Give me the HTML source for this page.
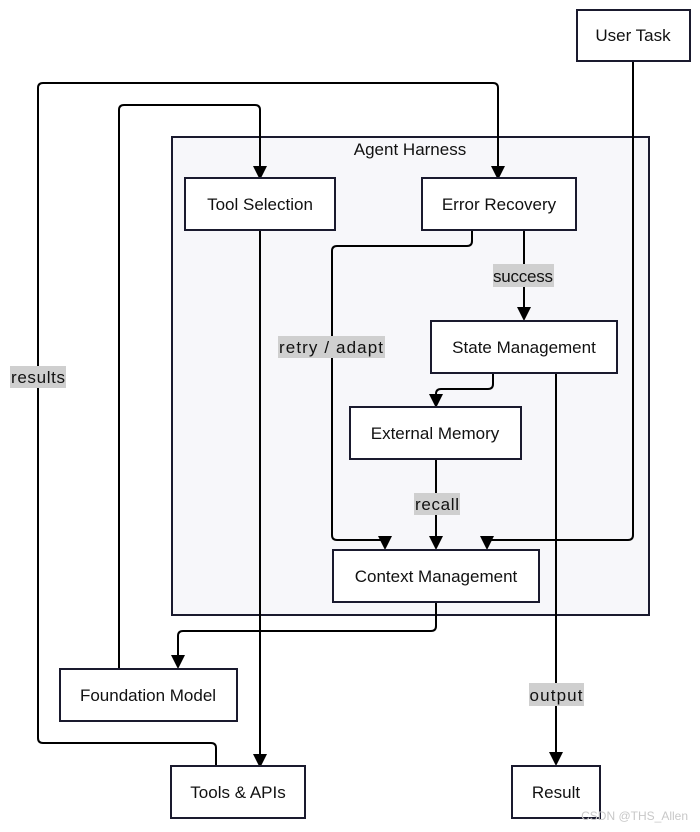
<!DOCTYPE html>
<html><head><meta charset="utf-8"><style>
html,body{margin:0;padding:0;background:#fff;}
svg text{font-family:"Liberation Sans",sans-serif;font-size:17px;fill:#111;}
</style></head><body>
<svg width="700" height="827" viewBox="0 0 700 827" xmlns="http://www.w3.org/2000/svg">
<rect x="172" y="137" width="477" height="478" fill="#f7f7fa" stroke="#1a1a2e" stroke-width="2"/>
<text x="410" y="155" text-anchor="middle">Agent Harness</text>
<g fill="none" stroke="#000" stroke-width="2">
<path d="M216 766 V748 Q216 743 211 743 H43 Q38 743 38 738 V88 Q38 83 43 83 H493 Q498 83 498 88 V168"/>
<path d="M119 669 V110 Q119 105 124 105 H255 Q260 105 260 110 V168"/>
<path d="M260 230 V756"/>
<path d="M472 230 V241 Q472 246 467 246 H337 Q332 246 332 251 V535 Q332 540 337 540 H380 Q385 540 385 540"/>
<path d="M524 230 V311"/>
<path d="M493 373 V384 Q493 389 488 389 H441 Q436 389 436 394 V397"/>
<path d="M556 373 V756"/>
<path d="M436 459 V540"/>
<path d="M633 61 V535 Q633 540 628 540 H492 Q487 540 487 545"/>
<path d="M436 602 V626 Q436 631 431 631 H183 Q178 631 178 636 V659"/>
</g>
<g fill="#000">
<polygon points="491,166 505,166 498,180"/>
<polygon points="253,166 267,166 260,180"/>
<polygon points="253,754 267,754 260,768"/>
<polygon points="378,536 392,536 385,550"/>
<polygon points="517,307 531,307 524,321"/>
<polygon points="429,394 443,394 436,408"/>
<polygon points="549,752 563,752 556,766"/>
<polygon points="429,536 443,536 436,550"/>
<polygon points="480,536 494,536 487,550"/>
<polygon points="171,655 185,655 178,669"/>
</g>
<g fill="#cfcfcf">
<rect x="10" y="366" width="56" height="22"/>
<rect x="278" y="336" width="107" height="22"/>
<rect x="493" y="264" width="61" height="23"/>
<rect x="414" y="493" width="46" height="22"/>
<rect x="529" y="683" width="55" height="23"/>
</g>
<text x="38" y="383" text-anchor="middle" textLength="54">results</text>
<text x="331" y="353" text-anchor="middle" textLength="104">retry / adapt</text>
<text x="523" y="282" text-anchor="middle" textLength="60">success</text>
<text x="437" y="510" text-anchor="middle" textLength="44">recall</text>
<text x="556" y="701" text-anchor="middle" textLength="53">output</text>
<g fill="#fff" stroke="#1a1a2e" stroke-width="2">
<rect x="577" y="10" width="113" height="51"/>
<rect x="185" y="178" width="150" height="52"/>
<rect x="422" y="178" width="154" height="52"/>
<rect x="431" y="321" width="186" height="52"/>
<rect x="350" y="407" width="171" height="52"/>
<rect x="333" y="550" width="206" height="52"/>
<rect x="60" y="669" width="177" height="52"/>
<rect x="171" y="766" width="134" height="52"/>
<rect x="512" y="766" width="88" height="52"/>
</g>
<text x="633" y="41" text-anchor="middle">User Task</text>
<text x="260" y="210" text-anchor="middle">Tool Selection</text>
<text x="499" y="210" text-anchor="middle">Error Recovery</text>
<text x="524" y="353" text-anchor="middle">State Management</text>
<text x="435" y="439" text-anchor="middle">External Memory</text>
<text x="436" y="582" text-anchor="middle">Context Management</text>
<text x="148" y="701" text-anchor="middle">Foundation Model</text>
<text x="238" y="798" text-anchor="middle">Tools &amp; APIs</text>
<text x="556" y="798" text-anchor="middle">Result</text>
<text x="688" y="820" text-anchor="end" style="font-size:12px;fill:#c8c8c8">CSDN @THS_Allen</text>
</svg>
</body></html>
